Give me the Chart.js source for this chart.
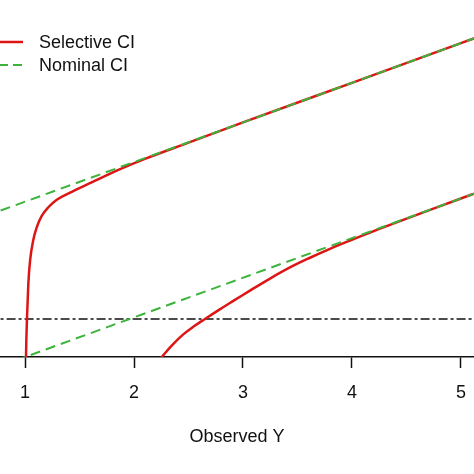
<!DOCTYPE html>
<html>
<head>
<meta charset="utf-8">
<script src="https://cdn.jsdelivr.net/npm/chart.js@4/dist/chart.umd.min.js"></script>
<style>
  html, body { margin: 0; padding: 0; background: #fff; }
  #wrap { width: 474px; height: 474px; }
</style>
</head>
<body>
<div id="wrap"><canvas id="c" width="474" height="474"></canvas></div>
<script>
// observed Y (x) and selective CI bounds
const upperY = [1.004, 1.012, 1.018, 1.03, 1.046, 1.076, 1.107, 1.153, 1.214, 1.291, 1.413, 1.566, 1.718, 1.872, 2.1, 2.5, 3.0, 4.0, 5.0, 5.2];
const upperSel = [-1.6, -0.5, 0.03, 0.89, 1.47, 2.0, 2.31, 2.6, 2.82, 3.01, 3.19, 3.39, 3.585, 3.78, 4.04, 4.45, 4.96, 5.96, 6.96, 7.16];

const lowerY = [2.22, 2.254, 2.35, 2.452, 2.55, 2.651, 2.78, 2.911, 3.064, 3.248, 3.431, 3.615, 3.798, 3.982, 4.165, 4.349, 4.532, 5.0, 5.2];
const lowerSel = [-1.07, -0.96, -0.66, -0.39, -0.185, 0.0, 0.23, 0.455, 0.715, 1.02, 1.30, 1.545, 1.77, 1.98, 2.18, 2.375, 2.565, 3.04, 3.24];

// nominal CI (straight lines)
const nominalY = [0.5, 5.5];
const nominalUpper = [2.46, 7.46];
const nominalLower = [-1.46, 3.54];

// reference line at mu = 0
const refY = [0.5, 5.5];
const refVal = [0, 0];

const xTicks = [1, 2, 3, 4, 5];

const RED = '#dd1515';
const GREEN = '#3cb43c';
const FONT = 'Liberation Sans, Arial, Helvetica, sans-serif';

const pts = (xs, ys) => xs.map((x, i) => ({ x, y: ys[i] }));

const legendPlugin = {
    id: 'rLegend',
    afterDraw(chart) {
        const ctx = chart.ctx;
        const items = [
            { text: 'Selective CI', color: RED, dash: [], width: 2.5, y: 42 },
            { text: 'Nominal CI', color: GREEN, dash: [9, 5], width: 2, y: 65 },
        ];
        ctx.save();
        for (const it of items) {
            ctx.beginPath();
            ctx.strokeStyle = it.color;
            ctx.lineWidth = it.width;
            ctx.setLineDash(it.dash);
            ctx.lineDashOffset = 1;
            ctx.moveTo(-14, it.y);
            ctx.lineTo(23, it.y);
            ctx.stroke();
            ctx.setLineDash([]);
            ctx.fillStyle = '#111';
            ctx.font = '18px ' + FONT;
            ctx.textBaseline = 'middle';
            ctx.fillText(it.text, 39, it.y + 1);
        }
        ctx.restore();
    }
};

new Chart(document.getElementById('c'), {
    type: 'line',
    data: {
        datasets: [
            { data: pts(nominalY, nominalUpper), borderColor: GREEN, borderWidth: 2, borderDash: [10, 6], pointRadius: 0, order: 0 },
            { data: pts(nominalY, nominalLower), borderColor: GREEN, borderWidth: 2, borderDash: [10, 6], pointRadius: 0, order: 0 },
            { data: pts(upperY, upperSel), borderColor: RED, borderWidth: 2.5, pointRadius: 0, cubicInterpolationMode: 'monotone', order: 1 },
            { data: pts(lowerY, lowerSel), borderColor: RED, borderWidth: 2.5, pointRadius: 0, tension: 0.4, order: 1 },
            { data: pts(refY, refVal), borderColor: '#111', borderWidth: 1.5, borderDash: [9, 3, 3, 3], pointRadius: 0, order: 2 },
        ]
    },
    options: {
        responsive: false,
        animation: false,
        layout: { padding: 0 },
        plugins: {
            legend: { display: false },
            tooltip: { enabled: false },
        },
        scales: {
            x: {
                type: 'linear',
                min: 0.77,
                max: 5.12,
                afterBuildTicks: s => { s.ticks = xTicks.map(v => ({ value: v })); },
                afterFit: s => { s.height = 117; s.paddingLeft = 0; s.paddingRight = 0; },
                grid: { drawOnChartArea: false, drawTicks: true, tickLength: 11, tickColor: '#111', tickWidth: 1.5 },
                border: { display: true, color: '#111', width: 1.5 },
                ticks: { color: '#111', font: { size: 18, family: FONT }, padding: 14, maxRotation: 0, autoSkip: false },
                title: { display: true, text: 'Observed Y', color: '#111', font: { size: 18, family: FONT }, padding: { top: 0, bottom: 26 } },
            },
            y: {
                type: 'linear',
                display: false,
                min: -0.96,
                max: 8.05,
            }
        }
    },
    plugins: [legendPlugin]
});
</script>
</body>
</html>
